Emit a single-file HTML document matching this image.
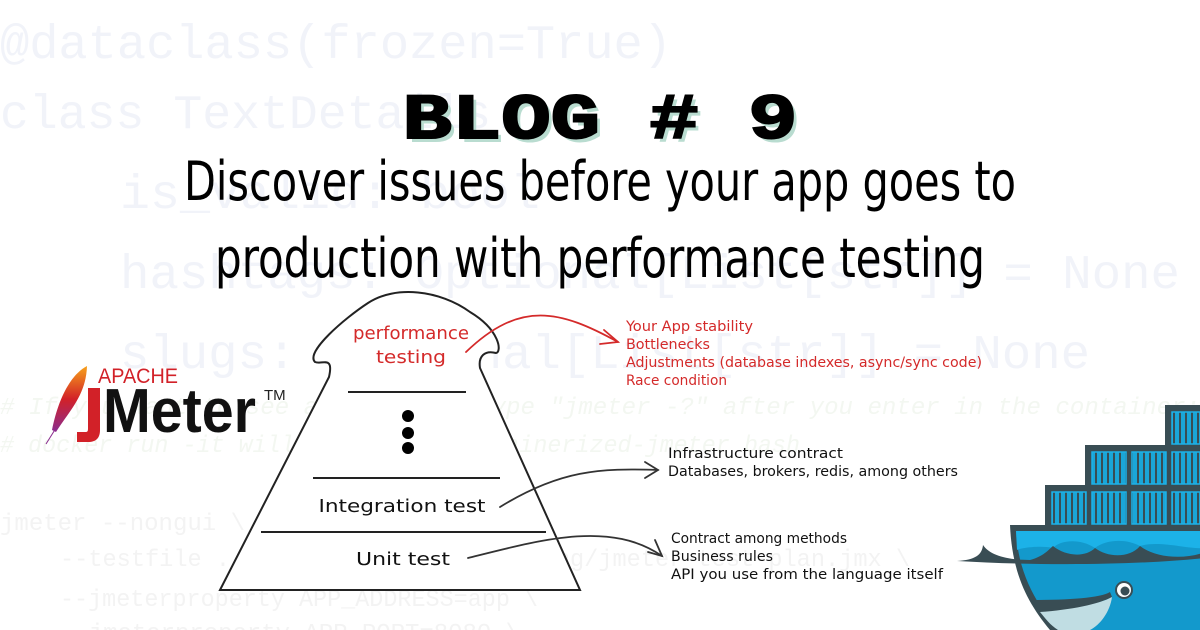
<!DOCTYPE html>
<html><head><meta charset="utf-8"><style>
html,body{margin:0;padding:0;background:#fff;}
svg{display:block;}
.code{font-family:"Liberation Mono","DejaVu Sans Mono",monospace;}
.hand{font-family:"DejaVu Sans Condensed","Liberation Sans Narrow","Liberation Sans",sans-serif;}
</style></head><body>
<svg width="1200" height="630" viewBox="0 0 1200 630" xmlns="http://www.w3.org/2000/svg">
<defs>
<pattern id="sl" width="6" height="10" patternUnits="userSpaceOnUse"><rect width="6" height="10" fill="#1aa6d8"/><rect x="3" width="2" height="10" fill="#394d54"/></pattern>
<linearGradient id="fe" x1="0" y1="0" x2="0" y2="1"><stop offset="0" stop-color="#f7a21b"/><stop offset="0.5" stop-color="#d22128"/><stop offset="1" stop-color="#8b2d8f"/></linearGradient>
</defs>
<rect width="1200" height="630" fill="#fff"/>
<g class="code" fill="#f1f3f9" font-size="48">
<text x="0" y="58" textLength="672" lengthAdjust="spacingAndGlyphs">@dataclass(frozen=True)</text>
<text x="0" y="128" textLength="520" lengthAdjust="spacingAndGlyphs">class TextDetails:</text>
<text x="120" y="208" textLength="420" lengthAdjust="spacingAndGlyphs">is_valid: bool</text>
<text x="120" y="288" textLength="1060" lengthAdjust="spacingAndGlyphs">hashtags: Optional[List[str]] = None</text>
<text x="120" y="368" textLength="970" lengthAdjust="spacingAndGlyphs">slugs: Optional[List[str]] = None</text>
</g>
<g class="code" fill="#f3f7f1" font-size="24" font-style="italic">
<text x="0" y="414" textLength="1200" lengthAdjust="spacingAndGlyphs"># If you want to see all options type "jmeter -?" after you enter in the container:</text>
<text x="0" y="452" textLength="800" lengthAdjust="spacingAndGlyphs"># docker run -it willianantunes/containerized-jmeter bash</text>
</g>
<g class="code" fill="#f3f3f3" font-size="24">
<text x="0" y="530" textLength="245" lengthAdjust="spacingAndGlyphs">jmeter --nongui \</text>
<text x="60" y="566" textLength="850" lengthAdjust="spacingAndGlyphs">--testfile ./tests/PerformanceTesting/jmeter-test-plan.jmx \</text>
<text x="60" y="606" textLength="478" lengthAdjust="spacingAndGlyphs">--jmeterproperty APP_ADDRESS=app \</text>
<text x="60" y="640" textLength="460" lengthAdjust="spacingAndGlyphs">--jmeterproperty APP_PORT=8080 \</text>
</g>
<g font-family="'Liberation Mono',monospace" font-weight="bold" font-size="64">
<text x="604" y="142" text-anchor="middle" fill="#b9dcd0" textLength="395" lengthAdjust="spacingAndGlyphs">BLOG # 9</text>
<text x="600" y="138" text-anchor="middle" fill="#000" textLength="395" lengthAdjust="spacingAndGlyphs" stroke="#000" stroke-width="2">BLOG # 9</text>
</g>
<g font-family="'Liberation Sans Narrow','DejaVu Sans Condensed','Liberation Sans',sans-serif" font-size="54" fill="#000">
<text x="600" y="200" text-anchor="middle" textLength="832" lengthAdjust="spacingAndGlyphs">Discover issues before your app goes to</text>
<text x="600" y="277" text-anchor="middle" textLength="770" lengthAdjust="spacingAndGlyphs">production with performance testing</text>
</g>
<path d="M220,590 L329,377 C334,355 322,365 315,362 C305,352 345,318 368,303 C395,285 440,290 470,312 C500,330 502,352 496,353 C485,350 478,356 480,368 L580,590 Z" fill="#fff" stroke="#222" stroke-width="2"/>
<g stroke="#222" stroke-width="2">
<line x1="348" y1="392" x2="466" y2="392"/>
<line x1="313" y1="478" x2="500" y2="478"/>
<line x1="261" y1="532" x2="546" y2="532"/>
</g>
<g fill="#000"><circle cx="408" cy="416" r="6"/><circle cx="408" cy="433" r="6"/><circle cx="408" cy="448" r="6"/></g>
<g class="hand" font-size="18">
<text x="411" y="339" text-anchor="middle" fill="#d42a2a" textLength="116" lengthAdjust="spacingAndGlyphs">performance</text>
<text x="411" y="363" text-anchor="middle" fill="#d42a2a" textLength="70" lengthAdjust="spacingAndGlyphs">testing</text>
<text x="402" y="512" text-anchor="middle" fill="#111" textLength="167" lengthAdjust="spacingAndGlyphs">Integration test</text>
<text x="403" y="565" text-anchor="middle" fill="#111" textLength="94" lengthAdjust="spacingAndGlyphs">Unit test</text>
</g>
<g fill="none" stroke-width="1.8" stroke-linecap="round">
<path d="M466,352 C520,300 560,310 618,342" stroke="#d42a2a"/>
<path d="M604,330 L618,342 L600,344" stroke="#d42a2a"/>
<path d="M500,507 C560,470 600,468 658,470" stroke="#333"/>
<path d="M645,462 L658,470 L645,478" stroke="#333"/>
<path d="M468,558 C540,540 610,520 662,556" stroke="#333"/>
<path d="M655,540 L662,556 L648,552" stroke="#333"/>
</g>
<g class="hand" font-size="14">
<g fill="#d42a2a">
<text x="626" y="331" textLength="127" lengthAdjust="spacingAndGlyphs">Your App stability</text>
<text x="626" y="349" textLength="84" lengthAdjust="spacingAndGlyphs">Bottlenecks</text>
<text x="626" y="367" textLength="356" lengthAdjust="spacingAndGlyphs">Adjustments (database indexes, async/sync code)</text>
<text x="626" y="385" textLength="101" lengthAdjust="spacingAndGlyphs">Race condition</text>
</g>
<g fill="#111">
<text x="668" y="458" textLength="175" lengthAdjust="spacingAndGlyphs">Infrastructure contract</text>
<text x="668" y="476" textLength="290" lengthAdjust="spacingAndGlyphs">Databases, brokers, redis, among others</text>
<text x="671" y="543" textLength="176" lengthAdjust="spacingAndGlyphs">Contract among methods</text>
<text x="671" y="561" textLength="102" lengthAdjust="spacingAndGlyphs">Business rules</text>
<text x="671" y="579" textLength="272" lengthAdjust="spacingAndGlyphs">API you use from the language itself</text>
</g>
</g>
<path d="M87,366 C70,375 58,400 52,430 L56,432 C70,410 86,395 87,366 Z" fill="url(#fe)"/>
<line x1="56" y1="428" x2="46" y2="444" stroke="#8b2d8f" stroke-width="1"/>
<text x="98" y="383" font-family="'Liberation Sans',sans-serif" font-size="21" fill="#d22128" textLength="80" lengthAdjust="spacingAndGlyphs">APACHE</text>
<path d="M88,388 L100,388 L100,430 C100,438 96,442 88,442 L77,442 L77,432 L86,432 C88,432 88,430 88,428 Z" fill="#d22128"/>
<text x="103" y="432" font-family="'Liberation Sans',sans-serif" font-weight="bold" font-size="62" fill="#111" textLength="153" lengthAdjust="spacingAndGlyphs">Meter</text>
<text x="264" y="400" font-family="'Liberation Sans',sans-serif" font-size="15" fill="#222">TM</text>
<g>
<rect x="1165" y="405" width="40" height="44" fill="#394d54"/>
<rect x="1085" y="445" width="120" height="44" fill="#394d54"/>
<rect x="1045" y="485" width="160" height="44" fill="#394d54"/>
<g fill="url(#sl)" stroke="#1cb2e8" stroke-width="1.5">
<rect x="1172" y="412" width="30" height="32"/>
<rect x="1092" y="452" width="34" height="32"/><rect x="1132" y="452" width="34" height="32"/><rect x="1172" y="452" width="30" height="32"/>
<rect x="1052" y="492" width="34" height="32"/><rect x="1092" y="492" width="34" height="32"/><rect x="1132" y="492" width="34" height="32"/><rect x="1172" y="492" width="30" height="32"/>
</g>
<path d="M1010,525 L1205,525 L1205,630 L1050,630 C1025,600 1012,570 1010,525 Z" fill="#394d54"/>
<path d="M1016,531 L1205,531 L1205,630 L1058,630 C1033,600 1018,570 1016,531 Z" fill="#1399cc"/>
<path d="M1016,531 L1205,531 L1205,548 C1190,550 1160,540 1140,546 C1125,538 1105,540 1095,548 C1080,538 1060,540 1053,548 C1040,545 1020,548 1017,550 Z" fill="#1cb2e8"/>
<path d="M957,561 C975,560 982,555 983,545 C990,556 1010,560 1030,560 C1045,556 1050,548 1053,546 C1065,556 1085,558 1095,548 C1108,558 1130,558 1140,546 C1155,558 1185,560 1205,552 L1205,558 C1140,565 1040,566 957,561 Z" fill="#394d54"/>
<path d="M1030,600 C1070,600 1100,598 1110,592 L1112,597 C1090,608 1060,612 1040,615 Z" fill="#394d54"/>
<path d="M1040,612 C1070,610 1100,604 1112,597 C1110,612 1100,625 1090,630 L1058,630 C1050,625 1045,618 1040,612 Z" fill="#c0dde3"/>
<circle cx="1124" cy="590" r="9" fill="#394d54"/><circle cx="1124" cy="590" r="7" fill="#fff"/><circle cx="1125" cy="591" r="4.5" fill="#394d54"/>
</g>
</svg>
</body></html>
